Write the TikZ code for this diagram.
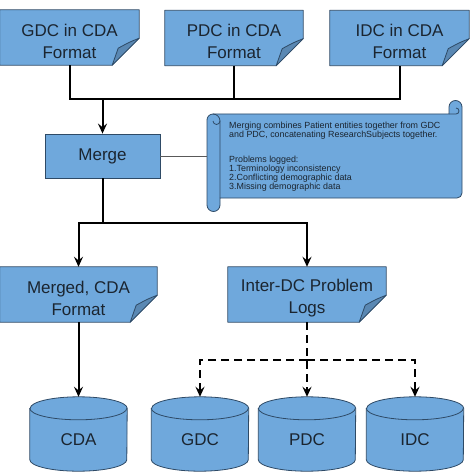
\documentclass[tikz,border=0pt]{standalone}
\usepackage{fontspec}
\setmainfont{Liberation Sans}
\usetikzlibrary{arrows.meta,backgrounds}
\definecolor{boxblue}{HTML}{6FA8DC}
\definecolor{boxline}{HTML}{2E4A66}
\definecolor{foldblue}{HTML}{5A88B3}
\definecolor{inktext}{HTML}{1B2530}
\tikzset{>/.tip={Stealth[length=10pt,width=9pt,inset=3.5pt]}}

\begin{document}
\begin{tikzpicture}[x=1pt,y=-1pt,
  docbox/.style={minimum width=#1, minimum height=55pt, inner sep=0pt, align=center,
    font=\fontsize{17}{22}\selectfont, text=inktext, text height=42pt},
  docbox/.default=139pt,
  docshape/.style={fill=boxblue, draw=boxline, line width=0.8pt, line join=round},
  foldshape/.style={fill=foldblue, draw=boxline, line width=0.8pt, line join=round},
  procbox/.style={draw=boxline, fill=boxblue, line width=0.8pt, minimum width=115pt,
    minimum height=44pt, inner sep=0pt, font=\fontsize{17}{22}\selectfont, text=inktext},
  dbcyl/.style={minimum width=97pt, minimum height=74pt, inner sep=0pt,
    font=\fontsize{17}{22}\selectfont, text=inktext, text height=24pt},
  notetext/.style={anchor=north west, inner sep=0pt, align=left,
    font=\fontsize{8.9}{9.2}\selectfont, text=inktext},
  link/.style={line width=2pt, black},
  dashlink/.style={link, dash pattern=on 8pt off 5pt},
  noteline/.style={line width=1pt, black!65}]
\useasboundingbox (0,0) rectangle (474,476);

% source documents
\node[docbox] (gdc) at (69.5,37.5) {GDC in CDA\\Format};
\node[docbox=138pt] (pdc) at (234,38) {PDC in CDA\\Format};
\node[docbox] (idc) at (399.5,38) {IDC in CDA\\Format};

\node[procbox] (merge) at (102.5,156) {Merge};

\node[docbox=157pt] (merged) at (78.5,294.5) {Merged, CDA\\Format};
\node[docbox=158pt] (logs) at (307,294.5) {Inter-DC Problem\\Logs};

% data commons
\node[dbcyl] (cda) at (78.5,434) {CDA};
\node[dbcyl] (gdcdb) at (200,434) {GDC};
\node[dbcyl] (pdcdb) at (307,434) {PDC};
\node[dbcyl] (idcdb) at (415,434) {IDC};

\begin{scope}[on background layer]
% document outlines with folded corner
\foreach \n in {gdc,pdc,idc,merged,logs} {
  \filldraw[docshape] (\n.north west) -- (\n.north east) -- ([yshift=27pt]\n.south east)
    -- ([xshift=-27pt]\n.south east) -- (\n.south west) -- cycle;
  \filldraw[foldshape] ([xshift=-27pt]\n.south east) -- ([xshift=-21pt,yshift=17pt]\n.south east)
    .. controls ([xshift=-10pt,yshift=23pt]\n.south east) .. ([yshift=27pt]\n.south east) -- cycle;
}
% cylinders
\foreach \n in {cda,gdcdb,pdcdb,idcdb} {
  \filldraw[docshape] ([yshift=-11.5pt]\n.north west) -- ([yshift=11.5pt]\n.south west)
    arc[start angle=180,end angle=0,x radius=48.5,y radius=11.5]
    -- ([yshift=-11.5pt]\n.north east)
    arc[start angle=360,end angle=180,x radius=48.5,y radius=11.5] -- cycle;
  \draw[docshape, fill=none] ([yshift=-11.5pt]\n.north west)
    arc[start angle=180,end angle=0,x radius=48.5,y radius=11.5];
}
\end{scope}

% scroll note
\filldraw[docshape] (207,205) -- (207,120) arc[start angle=180,end angle=270,radius=6]
  -- (449,114) -- (449,107) arc[start angle=180,end angle=360,radius=6.5]
  -- (462,193) arc[start angle=0,end angle=90,radius=5]
  -- (220,198) -- (220,205) arc[start angle=0,end angle=180,radius=6.5] -- cycle;
\draw[docshape, fill=none] (213,114) arc[start angle=270,end angle=360,radius=7] -- (220,198);
\draw[docshape, fill=none] (220,121) arc[start angle=0,end angle=180,radius=3.5];
\draw[docshape, fill=none] (449,114) -- (456,114) arc[start angle=90,end angle=-90,radius=3];
\node[notetext] (note) at (229,121.5) {Merging combines Patient entities together from GDC\\
  and PDC, concatenating ResearchSubjects together.\\[15.5pt]
  Problems logged:\\
  1.Terminology inconsistency\\
  2.Conflicting demographic data\\
  3.Missing demographic data};
\coordinate (noteleft) at (207,156);

% connectors
\coordinate (topbus) at (102.5,99);
\coordinate (midbus) at (102.5,223);
\coordinate (dashbus) at (307,360);

\draw[link] (gdc.south) -- (gdc.south |- topbus) -- (idc.south |- topbus) -- (idc.south);
\draw[link] (pdc.south) -- (pdc.south |- topbus);
\draw[link,->] (topbus) -- (merge.north);
\draw[noteline] (merge.east) -- (noteleft);
\draw[link] (merge.south) -- (midbus);
\draw[link,->] (midbus) -| (merged.north);
\draw[link,->] (midbus) -| (logs.north);
\draw[link,->] (merged.south) -- (cda.north);
\draw[dashlink,->] (logs.south) -- (pdcdb.north);
\draw[dashlink,->] (dashbus) -| (gdcdb.north);
\draw[dashlink,->] (dashbus) -| (idcdb.north);
\end{tikzpicture}
\end{document}
